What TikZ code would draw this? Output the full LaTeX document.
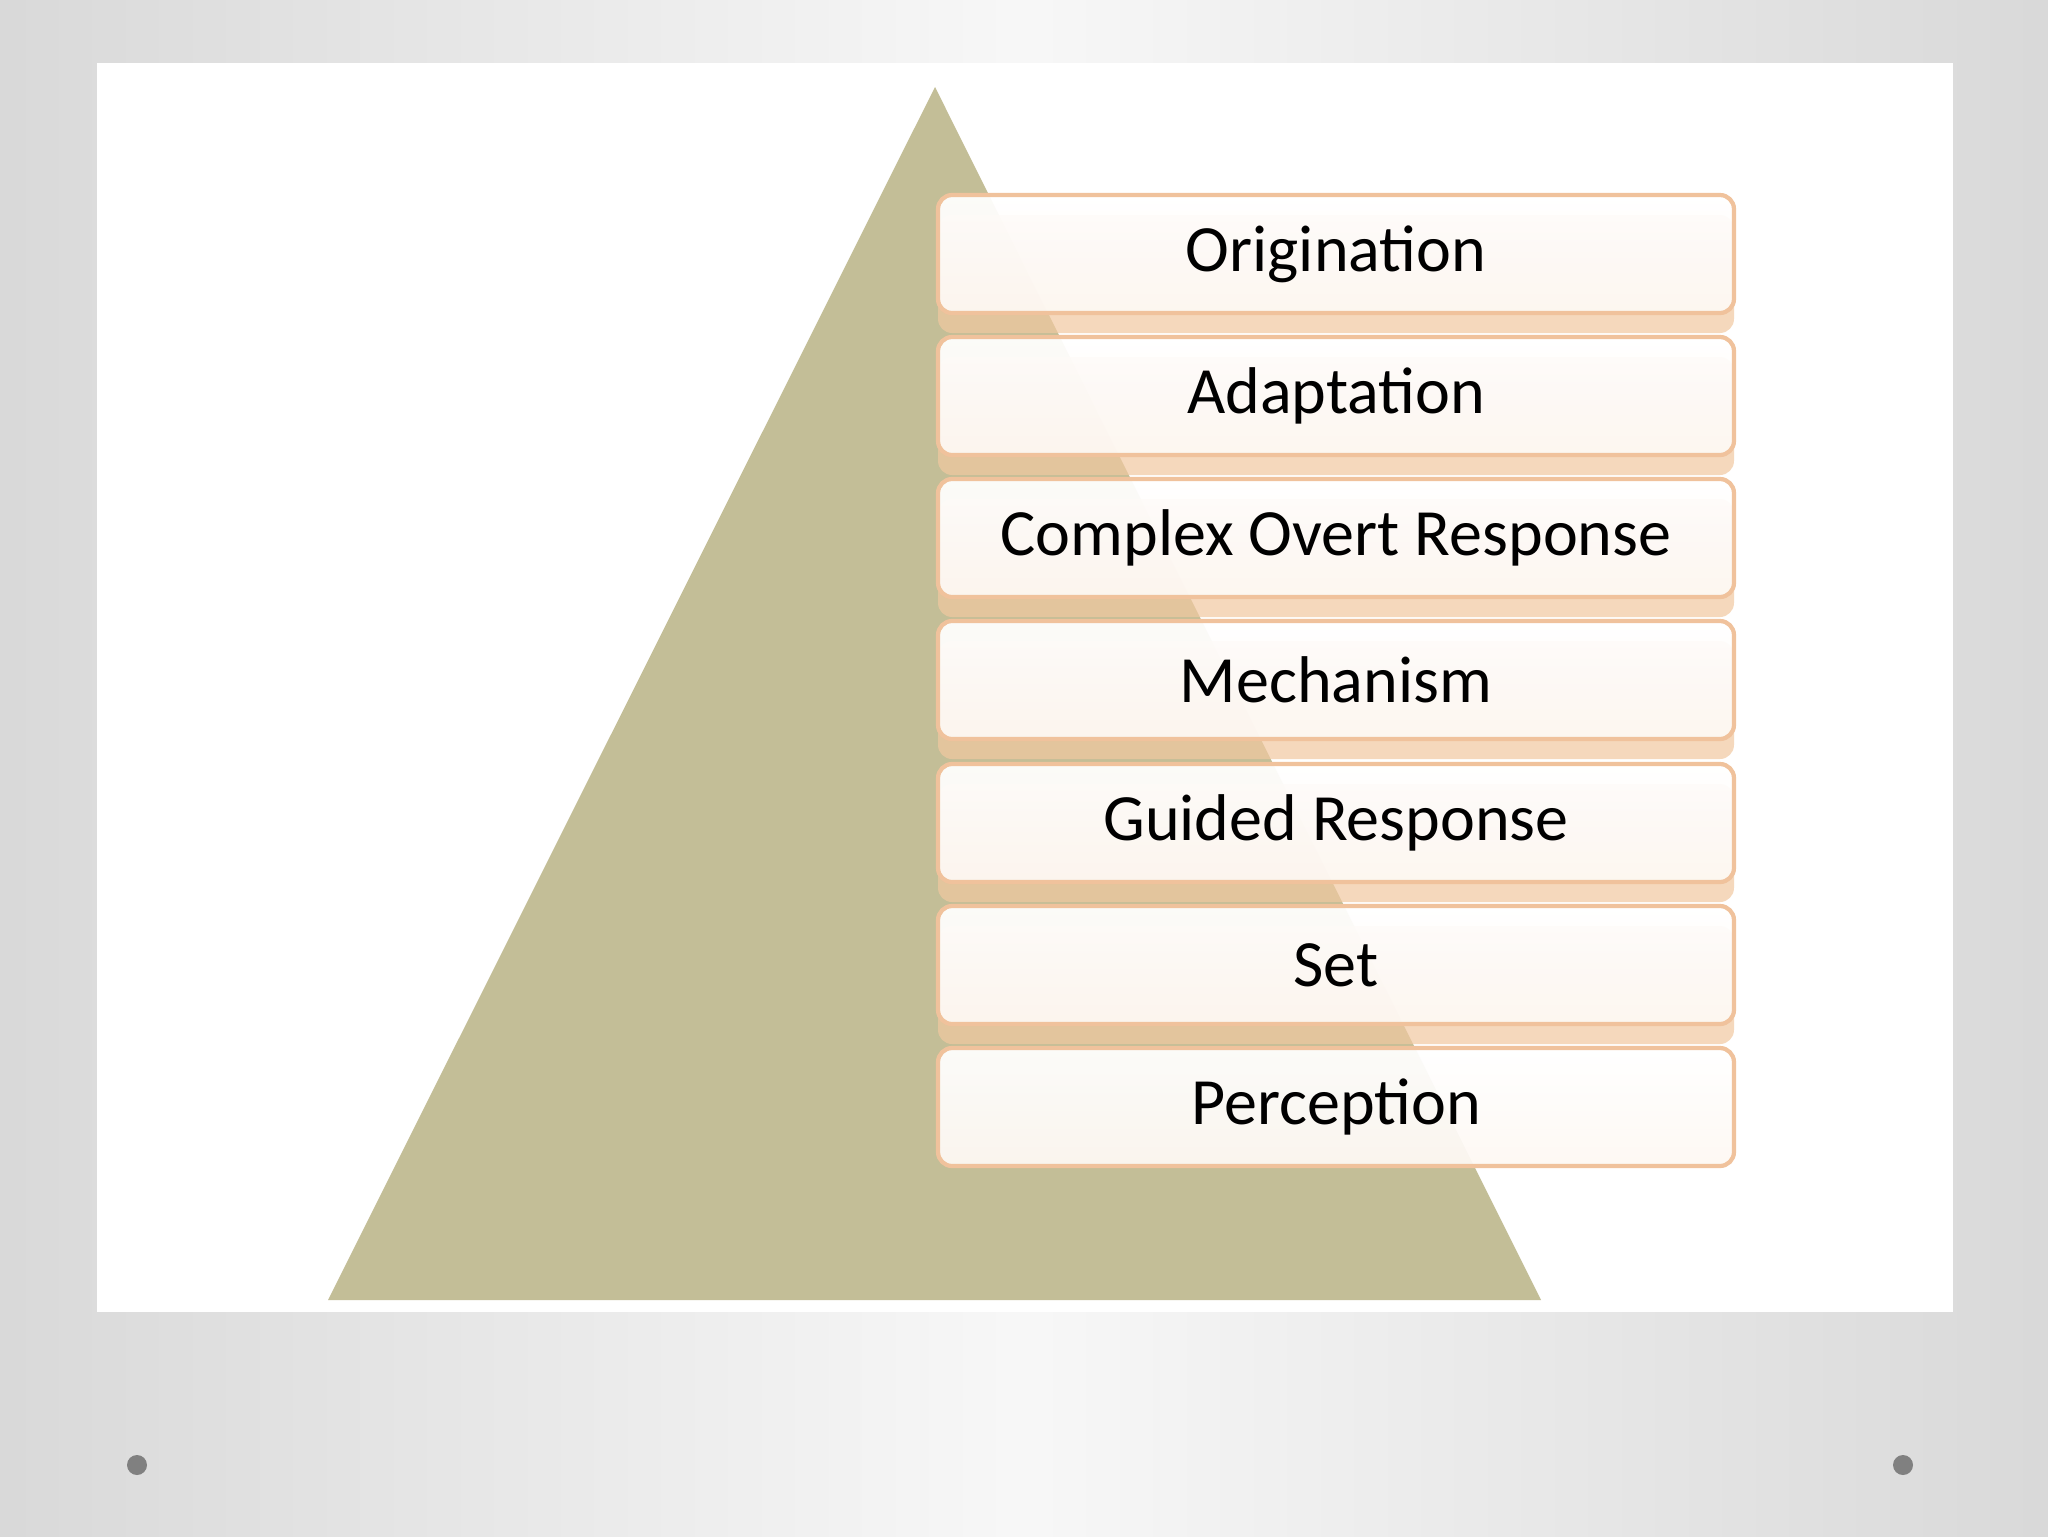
\documentclass[tikz,border=0pt]{standalone}
\usepackage{fontspec}
\setmainfont{Carlito}
\usetikzlibrary{shadows}
\definecolor{khaki}{RGB}{195,190,151}
\definecolor{peach}{RGB}{242,200,160}
\definecolor{boxedge}{RGB}{240,194,156}
\definecolor{dotgray}{RGB}{128,128,128}

\begin{document}
\begin{tikzpicture}[scale=0.1]
		\tikzstyle{every node}+=[inner sep=0pt]
		\tikzstyle{level}=[draw=boxedge, line width=1.2pt, rounded corners=4pt, top color=white, bottom color=peach!12, fill opacity=0.94, text opacity=1, minimum width=7.96cm, minimum height=1.18cm, font=\fontsize{18.8}{22}\selectfont, text=black]
		\tikzstyle{banded}=[level, drop shadow={shadow xshift=0pt, shadow yshift=-0.2cm, fill=peach, opacity=0.7}]
		\useasboundingbox (0,0) rectangle (204.8,-153.6);
		\shade [left color=black!15, right color=black!15, middle color=black!3] (0,0) rectangle (204.8,-153.6);
		\fill [white] (9.7,-6.3) rectangle (195.3,-131.2);
		\fill [khaki] (93.5,-8.7) -- (154.1,-130) -- (32.8,-130) -- cycle;
		\node [banded] (orig) at (133.6,-25.4) {Origination};
		\node [banded] (adapt) at (133.6,-39.6) {Adaptation};
		\node [banded] (cor) at (133.6,-53.8) {Complex Overt Response};
		\node [banded] (mech) at (133.6,-68) {Mechanism};
		\node [banded] (guided) at (133.6,-82.3) {Guided Response};
		\node [banded] (set) at (133.6,-96.5) {Set};
		\node [level] (perc) at (133.6,-110.7) {Perception};
		\fill [dotgray] (13.7,-146.5) circle (1);
		\fill [dotgray] (190.3,-146.5) circle (1);
	\end{tikzpicture}
\end{document}
